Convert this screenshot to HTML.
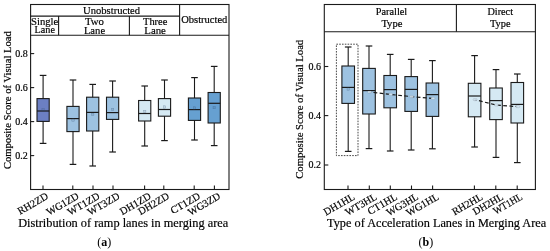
<!DOCTYPE html>
<html><head><meta charset="utf-8"><title>Figure</title>
<style>html,body{margin:0;padding:0;background:#fff}svg text{fill:#000;stroke:#000;stroke-width:0.18px}svg text.cap{stroke:none}</style></head>
<body>
<svg width="550" height="251" viewBox="0 0 550 251" style="display:block;font-family:'Liberation Serif', 'DejaVu Serif', serif" fill="#111">
<rect width="550" height="251" fill="#fff"/>
<g stroke="#1a1a1a" stroke-width="1.1" fill="none">
<rect x="30.6" y="4.5" width="198.4" height="185.0"/>
<line x1="30.6" y1="35.3" x2="229.0" y2="35.3"/>
<line x1="30.6" y1="16.1" x2="179.6" y2="16.1"/>
<line x1="179.6" y1="4.5" x2="179.6" y2="35.3"/>
<line x1="58.6" y1="16.1" x2="58.6" y2="35.3"/>
<line x1="129.4" y1="16.1" x2="129.4" y2="35.3"/>
<line x1="30.6" y1="53.6" x2="34.2" y2="53.6"/>
<line x1="30.6" y1="87.6" x2="34.2" y2="87.6"/>
<line x1="30.6" y1="121.6" x2="34.2" y2="121.6"/>
<line x1="30.6" y1="155.6" x2="34.2" y2="155.6"/>
<line x1="43" y1="189.5" x2="43" y2="185.5"/>
<line x1="72.8" y1="189.5" x2="72.8" y2="185.5"/>
<line x1="93" y1="189.5" x2="93" y2="185.5"/>
<line x1="113" y1="189.5" x2="113" y2="185.5"/>
<line x1="144.6" y1="189.5" x2="144.6" y2="185.5"/>
<line x1="163.8" y1="189.5" x2="163.8" y2="185.5"/>
<line x1="194.2" y1="189.5" x2="194.2" y2="185.5"/>
<line x1="214.4" y1="189.5" x2="214.4" y2="185.5"/>
</g>
<text x="83.1" y="13.6" font-size="10.7" text-anchor="start" textLength="57" lengthAdjust="spacingAndGlyphs">Unobstructed</text>
<text x="31" y="24.6" font-size="10.9" text-anchor="start" textLength="27.3" lengthAdjust="spacingAndGlyphs">Single</text>
<text x="34.6" y="33.4" font-size="10.3" text-anchor="start" textLength="20.4" lengthAdjust="spacingAndGlyphs">Lane</text>
<text x="85.0" y="25.2" font-size="10.7" text-anchor="start" textLength="19" lengthAdjust="spacingAndGlyphs">Two</text>
<text x="83.9" y="33.8" font-size="10.7" text-anchor="start" textLength="21.2" lengthAdjust="spacingAndGlyphs">Lane</text>
<text x="143.0" y="24.8" font-size="10.7" text-anchor="start" textLength="24.4" lengthAdjust="spacingAndGlyphs">Three</text>
<text x="144.3" y="33.8" font-size="10.7" text-anchor="start" textLength="21.6" lengthAdjust="spacingAndGlyphs">Lane</text>
<text x="181.2" y="23.3" font-size="10.7" text-anchor="start" textLength="46.2" lengthAdjust="spacingAndGlyphs">Obstructed</text>
<text x="27.8" y="57.2" font-size="10" text-anchor="end">0.8</text>
<text x="27.8" y="91.19999999999999" font-size="10" text-anchor="end">0.6</text>
<text x="27.8" y="125.19999999999999" font-size="10" text-anchor="end">0.4</text>
<text x="27.8" y="159.2" font-size="10" text-anchor="end">0.2</text>
<text transform="translate(10.5,169) rotate(-90)" font-size="11" textLength="137.8" lengthAdjust="spacingAndGlyphs">Composite Score of Visual Load</text>
<line x1="43.1" y1="75.4" x2="43.1" y2="143.4" stroke="#1a1a1a" stroke-width="1.1"/>
<line x1="39.800000000000004" y1="75.4" x2="46.4" y2="75.4" stroke="#1a1a1a" stroke-width="1.2"/>
<line x1="39.800000000000004" y1="143.4" x2="46.4" y2="143.4" stroke="#1a1a1a" stroke-width="1.2"/>
<rect x="37.00" y="98.6" width="12.2" height="22.80" fill="#6C7FC3" stroke="#1a1a1a" stroke-width="1.1"/>
<line x1="37.00" y1="111" x2="49.20" y2="111" stroke="#1a1a1a" stroke-width="1.2"/>
<rect x="41.9" y="108.39999999999999" width="2.4" height="2.4" fill="#34506e" fill-opacity="0.14" stroke="#34506e" stroke-width="0.4" stroke-opacity="0.45"/>
<line x1="73" y1="80" x2="73" y2="164.4" stroke="#1a1a1a" stroke-width="1.1"/>
<line x1="69.7" y1="80" x2="76.3" y2="80" stroke="#1a1a1a" stroke-width="1.2"/>
<line x1="69.7" y1="164.4" x2="76.3" y2="164.4" stroke="#1a1a1a" stroke-width="1.2"/>
<rect x="66.90" y="106.4" width="12.2" height="25.20" fill="#9DC2E1" stroke="#1a1a1a" stroke-width="1.1"/>
<line x1="66.90" y1="118.6" x2="79.10" y2="118.6" stroke="#1a1a1a" stroke-width="1.2"/>
<rect x="71.8" y="118.8" width="2.4" height="2.4" fill="#34506e" fill-opacity="0.14" stroke="#34506e" stroke-width="0.4" stroke-opacity="0.45"/>
<line x1="92.7" y1="84.4" x2="92.7" y2="166" stroke="#1a1a1a" stroke-width="1.1"/>
<line x1="89.4" y1="84.4" x2="96.0" y2="84.4" stroke="#1a1a1a" stroke-width="1.2"/>
<line x1="89.4" y1="166" x2="96.0" y2="166" stroke="#1a1a1a" stroke-width="1.2"/>
<rect x="86.60" y="97.2" width="12.2" height="33.80" fill="#9DC2E1" stroke="#1a1a1a" stroke-width="1.1"/>
<line x1="86.60" y1="112.4" x2="98.80" y2="112.4" stroke="#1a1a1a" stroke-width="1.2"/>
<rect x="91.5" y="113.2" width="2.4" height="2.4" fill="#34506e" fill-opacity="0.14" stroke="#34506e" stroke-width="0.4" stroke-opacity="0.45"/>
<line x1="112.6" y1="81" x2="112.6" y2="152" stroke="#1a1a1a" stroke-width="1.1"/>
<line x1="109.3" y1="81" x2="115.89999999999999" y2="81" stroke="#1a1a1a" stroke-width="1.2"/>
<line x1="109.3" y1="152" x2="115.89999999999999" y2="152" stroke="#1a1a1a" stroke-width="1.2"/>
<rect x="106.50" y="97.2" width="12.2" height="22.20" fill="#9DC2E1" stroke="#1a1a1a" stroke-width="1.1"/>
<line x1="106.50" y1="112.6" x2="118.70" y2="112.6" stroke="#1a1a1a" stroke-width="1.2"/>
<rect x="111.39999999999999" y="108.2" width="2.4" height="2.4" fill="#34506e" fill-opacity="0.14" stroke="#34506e" stroke-width="0.4" stroke-opacity="0.45"/>
<line x1="144.7" y1="86" x2="144.7" y2="146" stroke="#1a1a1a" stroke-width="1.1"/>
<line x1="141.39999999999998" y1="86" x2="148.0" y2="86" stroke="#1a1a1a" stroke-width="1.2"/>
<line x1="141.39999999999998" y1="146" x2="148.0" y2="146" stroke="#1a1a1a" stroke-width="1.2"/>
<rect x="138.60" y="100.5" width="12.2" height="20.50" fill="#D5E9F3" stroke="#1a1a1a" stroke-width="1.1"/>
<line x1="138.60" y1="113.5" x2="150.80" y2="113.5" stroke="#1a1a1a" stroke-width="1.2"/>
<rect x="143.5" y="110.2" width="2.4" height="2.4" fill="#34506e" fill-opacity="0.14" stroke="#34506e" stroke-width="0.4" stroke-opacity="0.45"/>
<line x1="164.5" y1="80" x2="164.5" y2="140.6" stroke="#1a1a1a" stroke-width="1.1"/>
<line x1="161.2" y1="80" x2="167.8" y2="80" stroke="#1a1a1a" stroke-width="1.2"/>
<line x1="161.2" y1="140.6" x2="167.8" y2="140.6" stroke="#1a1a1a" stroke-width="1.2"/>
<rect x="158.40" y="98.6" width="12.2" height="17.60" fill="#D5E9F3" stroke="#1a1a1a" stroke-width="1.1"/>
<line x1="158.40" y1="109.5" x2="170.60" y2="109.5" stroke="#1a1a1a" stroke-width="1.2"/>
<rect x="163.3" y="105.8" width="2.4" height="2.4" fill="#34506e" fill-opacity="0.14" stroke="#34506e" stroke-width="0.4" stroke-opacity="0.45"/>
<line x1="194.5" y1="77.6" x2="194.5" y2="140" stroke="#1a1a1a" stroke-width="1.1"/>
<line x1="191.2" y1="77.6" x2="197.8" y2="77.6" stroke="#1a1a1a" stroke-width="1.2"/>
<line x1="191.2" y1="140" x2="197.8" y2="140" stroke="#1a1a1a" stroke-width="1.2"/>
<rect x="188.40" y="98" width="12.2" height="22.40" fill="#66A0D1" stroke="#1a1a1a" stroke-width="1.1"/>
<line x1="188.40" y1="109.6" x2="200.60" y2="109.6" stroke="#1a1a1a" stroke-width="1.2"/>
<rect x="193.3" y="106.8" width="2.4" height="2.4" fill="#34506e" fill-opacity="0.14" stroke="#34506e" stroke-width="0.4" stroke-opacity="0.45"/>
<line x1="214.2" y1="66.4" x2="214.2" y2="145.6" stroke="#1a1a1a" stroke-width="1.1"/>
<line x1="210.89999999999998" y1="66.4" x2="217.5" y2="66.4" stroke="#1a1a1a" stroke-width="1.2"/>
<line x1="210.89999999999998" y1="145.6" x2="217.5" y2="145.6" stroke="#1a1a1a" stroke-width="1.2"/>
<rect x="208.10" y="92.5" width="12.2" height="30.50" fill="#66A0D1" stroke="#1a1a1a" stroke-width="1.1"/>
<line x1="208.10" y1="103.3" x2="220.30" y2="103.3" stroke="#1a1a1a" stroke-width="1.2"/>
<rect x="213.0" y="106.39999999999999" width="2.4" height="2.4" fill="#34506e" fill-opacity="0.14" stroke="#34506e" stroke-width="0.4" stroke-opacity="0.45"/>
<text transform="translate(49.10,198.1) rotate(-30)" font-size="10.4" text-anchor="end" textLength="33.51" lengthAdjust="spacingAndGlyphs">RH2ZD</text>
<text transform="translate(79.60,198.1) rotate(-30)" font-size="10.4" text-anchor="end" textLength="35.39" lengthAdjust="spacingAndGlyphs">WG1ZD</text>
<text transform="translate(100.50,198.1) rotate(-30)" font-size="10.4" text-anchor="end" textLength="35.23" lengthAdjust="spacingAndGlyphs">WT1ZD</text>
<text transform="translate(120.50,198.1) rotate(-30)" font-size="10.4" text-anchor="end" textLength="35.23" lengthAdjust="spacingAndGlyphs">WT3ZD</text>
<text transform="translate(151.70,198.1) rotate(-30)" font-size="10.4" text-anchor="end" textLength="34.09" lengthAdjust="spacingAndGlyphs">DH1ZD</text>
<text transform="translate(170.10,198.1) rotate(-30)" font-size="10.4" text-anchor="end" textLength="34.09" lengthAdjust="spacingAndGlyphs">DH2ZD</text>
<text transform="translate(201.00,198.1) rotate(-30)" font-size="10.4" text-anchor="end" textLength="32.35" lengthAdjust="spacingAndGlyphs">CT1ZD</text>
<text transform="translate(221.20,198.1) rotate(-30)" font-size="10.4" text-anchor="end" textLength="35.59" lengthAdjust="spacingAndGlyphs">WG3ZD</text>
<text x="18.2" y="227" font-size="12.2" text-anchor="start" textLength="210" lengthAdjust="spacingAndGlyphs">Distribution of ramp lanes in merging area</text>
<text class="cap" x="97.3" y="246" font-size="12">(<tspan font-weight="bold">a</tspan>)</text>
<g stroke="#1a1a1a" stroke-width="1.1" fill="none">
<rect x="324.3" y="4.5" width="211.09999999999997" height="185.0"/>
<line x1="324.3" y1="31.8" x2="535.4" y2="31.8"/>
<line x1="456.4" y1="4.5" x2="456.4" y2="31.8"/>
<line x1="324.3" y1="66.5" x2="328.3" y2="66.5"/>
<line x1="324.3" y1="115.6" x2="328.3" y2="115.6"/>
<line x1="324.3" y1="165.0" x2="328.3" y2="165.0"/>
<line x1="348" y1="189.5" x2="348" y2="185.5"/>
<line x1="369.3" y1="189.5" x2="369.3" y2="185.5"/>
<line x1="390.3" y1="189.5" x2="390.3" y2="185.5"/>
<line x1="411.5" y1="189.5" x2="411.5" y2="185.5"/>
<line x1="432.6" y1="189.5" x2="432.6" y2="185.5"/>
<line x1="474.4" y1="189.5" x2="474.4" y2="185.5"/>
<line x1="495.8" y1="189.5" x2="495.8" y2="185.5"/>
<line x1="517.2" y1="189.5" x2="517.2" y2="185.5"/>
</g>
<rect x="336.4" y="44.2" width="21.6" height="111.4" fill="none" stroke="#333" stroke-width="0.9" stroke-dasharray="1.6 1.2"/>
<text x="375.8" y="15.2" font-size="10.3" text-anchor="start" textLength="31.4" lengthAdjust="spacingAndGlyphs">Parallel</text>
<text x="381.4" y="27.3" font-size="10.3" text-anchor="start" textLength="21" lengthAdjust="spacingAndGlyphs">Type</text>
<text x="487.4" y="15.2" font-size="10.3" text-anchor="start" textLength="25.6" lengthAdjust="spacingAndGlyphs">Direct</text>
<text x="490" y="27.3" font-size="10.3" text-anchor="start" textLength="20.6" lengthAdjust="spacingAndGlyphs">Type</text>
<text x="321.0" y="69.8" font-size="10" text-anchor="end">0.6</text>
<text x="321.0" y="119.1" font-size="10" text-anchor="end">0.4</text>
<text x="321.0" y="168.4" font-size="10" text-anchor="end">0.2</text>
<text transform="translate(302.9,178.8) rotate(-90)" font-size="11" textLength="139" lengthAdjust="spacingAndGlyphs">Composite Score of Visual Load</text>
<line x1="348.2" y1="47" x2="348.2" y2="151.4" stroke="#1a1a1a" stroke-width="1.1"/>
<line x1="344.9" y1="47" x2="351.5" y2="47" stroke="#1a1a1a" stroke-width="1.2"/>
<line x1="344.9" y1="151.4" x2="351.5" y2="151.4" stroke="#1a1a1a" stroke-width="1.2"/>
<rect x="341.90" y="66" width="12.6" height="37.40" fill="#9DC2E1" stroke="#1a1a1a" stroke-width="1.1"/>
<line x1="341.90" y1="87.4" x2="354.50" y2="87.4" stroke="#1a1a1a" stroke-width="1.2"/>
<line x1="369" y1="46" x2="369" y2="148.6" stroke="#1a1a1a" stroke-width="1.1"/>
<line x1="365.7" y1="46" x2="372.3" y2="46" stroke="#1a1a1a" stroke-width="1.2"/>
<line x1="365.7" y1="148.6" x2="372.3" y2="148.6" stroke="#1a1a1a" stroke-width="1.2"/>
<rect x="362.70" y="68.4" width="12.6" height="45.60" fill="#9DC2E1" stroke="#1a1a1a" stroke-width="1.1"/>
<line x1="362.70" y1="90.6" x2="375.30" y2="90.6" stroke="#1a1a1a" stroke-width="1.2"/>
<line x1="390.2" y1="54.4" x2="390.2" y2="151" stroke="#1a1a1a" stroke-width="1.1"/>
<line x1="386.9" y1="54.4" x2="393.5" y2="54.4" stroke="#1a1a1a" stroke-width="1.2"/>
<line x1="386.9" y1="151" x2="393.5" y2="151" stroke="#1a1a1a" stroke-width="1.2"/>
<rect x="383.90" y="75.5" width="12.6" height="32.30" fill="#9DC2E1" stroke="#1a1a1a" stroke-width="1.1"/>
<line x1="383.90" y1="89.6" x2="396.50" y2="89.6" stroke="#1a1a1a" stroke-width="1.2"/>
<line x1="411.2" y1="59.4" x2="411.2" y2="150" stroke="#1a1a1a" stroke-width="1.1"/>
<line x1="407.9" y1="59.4" x2="414.5" y2="59.4" stroke="#1a1a1a" stroke-width="1.2"/>
<line x1="407.9" y1="150" x2="414.5" y2="150" stroke="#1a1a1a" stroke-width="1.2"/>
<rect x="404.90" y="76.6" width="12.6" height="34.80" fill="#9DC2E1" stroke="#1a1a1a" stroke-width="1.1"/>
<line x1="404.90" y1="89.4" x2="417.50" y2="89.4" stroke="#1a1a1a" stroke-width="1.2"/>
<line x1="432.4" y1="60.6" x2="432.4" y2="148.8" stroke="#1a1a1a" stroke-width="1.1"/>
<line x1="429.09999999999997" y1="60.6" x2="435.7" y2="60.6" stroke="#1a1a1a" stroke-width="1.2"/>
<line x1="429.09999999999997" y1="148.8" x2="435.7" y2="148.8" stroke="#1a1a1a" stroke-width="1.2"/>
<rect x="426.10" y="83" width="12.6" height="33.40" fill="#9DC2E1" stroke="#1a1a1a" stroke-width="1.1"/>
<line x1="426.10" y1="94.6" x2="438.70" y2="94.6" stroke="#1a1a1a" stroke-width="1.2"/>
<line x1="474.6" y1="55.6" x2="474.6" y2="147" stroke="#1a1a1a" stroke-width="1.1"/>
<line x1="471.3" y1="55.6" x2="477.90000000000003" y2="55.6" stroke="#1a1a1a" stroke-width="1.2"/>
<line x1="471.3" y1="147" x2="477.90000000000003" y2="147" stroke="#1a1a1a" stroke-width="1.2"/>
<rect x="468.30" y="83.3" width="12.6" height="33.50" fill="#D5E9F3" stroke="#1a1a1a" stroke-width="1.1"/>
<line x1="468.30" y1="96" x2="480.90" y2="96" stroke="#1a1a1a" stroke-width="1.2"/>
<line x1="496" y1="69.6" x2="496" y2="157.4" stroke="#1a1a1a" stroke-width="1.1"/>
<line x1="492.7" y1="69.6" x2="499.3" y2="69.6" stroke="#1a1a1a" stroke-width="1.2"/>
<line x1="492.7" y1="157.4" x2="499.3" y2="157.4" stroke="#1a1a1a" stroke-width="1.2"/>
<rect x="489.70" y="88" width="12.6" height="31.60" fill="#D5E9F3" stroke="#1a1a1a" stroke-width="1.1"/>
<line x1="489.70" y1="100.6" x2="502.30" y2="100.6" stroke="#1a1a1a" stroke-width="1.2"/>
<line x1="517.3" y1="74" x2="517.3" y2="162.6" stroke="#1a1a1a" stroke-width="1.1"/>
<line x1="514.0" y1="74" x2="520.5999999999999" y2="74" stroke="#1a1a1a" stroke-width="1.2"/>
<line x1="514.0" y1="162.6" x2="520.5999999999999" y2="162.6" stroke="#1a1a1a" stroke-width="1.2"/>
<rect x="511.00" y="82.5" width="12.6" height="40.50" fill="#D5E9F3" stroke="#1a1a1a" stroke-width="1.1"/>
<line x1="511.00" y1="104.4" x2="523.60" y2="104.4" stroke="#1a1a1a" stroke-width="1.2"/>
<rect x="347.0" y="87.8" width="2.4" height="2.4" fill="#34506e" fill-opacity="0.14" stroke="#34506e" stroke-width="0.4" stroke-opacity="0.45"/>
<polyline points="369,92 390.2,94.4 411.2,96.6 432.4,98.4" fill="none" stroke="#1a1a1a" stroke-width="1.2" stroke-dasharray="3.8 2.4" stroke-dashoffset="1.7"/>
<polyline points="474.6,99.6 496,105 517.3,106.6" fill="none" stroke="#1a1a1a" stroke-width="1.2" stroke-dasharray="3.8 2.4" stroke-dashoffset="1.7"/>
<rect x="367.6" y="90.9" width="3.8" height="2.2" rx="0.8" fill="#d4e4f1" fill-opacity="0.9" stroke="#5a6a7a" stroke-width="0.35" stroke-opacity="0.5"/>
<rect x="388.8" y="93.30000000000001" width="3.8" height="2.2" rx="0.8" fill="#d4e4f1" fill-opacity="0.9" stroke="#5a6a7a" stroke-width="0.35" stroke-opacity="0.5"/>
<rect x="409.8" y="95.5" width="3.8" height="2.2" rx="0.8" fill="#d4e4f1" fill-opacity="0.9" stroke="#5a6a7a" stroke-width="0.35" stroke-opacity="0.5"/>
<rect x="431.0" y="97.30000000000001" width="3.8" height="2.2" rx="0.8" fill="#d4e4f1" fill-opacity="0.9" stroke="#5a6a7a" stroke-width="0.35" stroke-opacity="0.5"/>
<rect x="473.20000000000005" y="98.5" width="3.8" height="2.2" rx="0.8" fill="#d4e4f1" fill-opacity="0.9" stroke="#5a6a7a" stroke-width="0.35" stroke-opacity="0.5"/>
<rect x="494.6" y="103.9" width="3.8" height="2.2" rx="0.8" fill="#d4e4f1" fill-opacity="0.9" stroke="#5a6a7a" stroke-width="0.35" stroke-opacity="0.5"/>
<rect x="515.9" y="105.5" width="3.8" height="2.2" rx="0.8" fill="#d4e4f1" fill-opacity="0.9" stroke="#5a6a7a" stroke-width="0.35" stroke-opacity="0.5"/>
<text transform="translate(355.40,198.8) rotate(-30)" font-size="10.4" text-anchor="end" textLength="34.09" lengthAdjust="spacingAndGlyphs">DH1HL</text>
<text transform="translate(377.60,198.8) rotate(-30)" font-size="10.4" text-anchor="end" textLength="34.43" lengthAdjust="spacingAndGlyphs">WT3HL</text>
<text transform="translate(397.90,198.8) rotate(-30)" font-size="10.4" text-anchor="end" textLength="32.35" lengthAdjust="spacingAndGlyphs">CT1HL</text>
<text transform="translate(419.10,198.8) rotate(-30)" font-size="10.4" text-anchor="end" textLength="34.79" lengthAdjust="spacingAndGlyphs">WG3HL</text>
<text transform="translate(439.50,198.8) rotate(-30)" font-size="10.4" text-anchor="end" textLength="35.59" lengthAdjust="spacingAndGlyphs">WG1HL</text>
<text transform="translate(483.40,198.8) rotate(-30)" font-size="10.4" text-anchor="end" textLength="33.51" lengthAdjust="spacingAndGlyphs">RH2HL</text>
<text transform="translate(504.00,198.8) rotate(-30)" font-size="10.4" text-anchor="end" textLength="33.09" lengthAdjust="spacingAndGlyphs">DH2HL</text>
<text transform="translate(523.20,198.8) rotate(-30)" font-size="10.4" text-anchor="end" textLength="31.83" lengthAdjust="spacingAndGlyphs">WT1HL</text>
<text x="327.1" y="227" font-size="12.2" text-anchor="start" textLength="219.1" lengthAdjust="spacingAndGlyphs">Type of Acceleration Lanes in Merging Area</text>
<text class="cap" x="418.5" y="246" font-size="12">(<tspan font-weight="bold">b</tspan>)</text>
</svg>
</body></html>
